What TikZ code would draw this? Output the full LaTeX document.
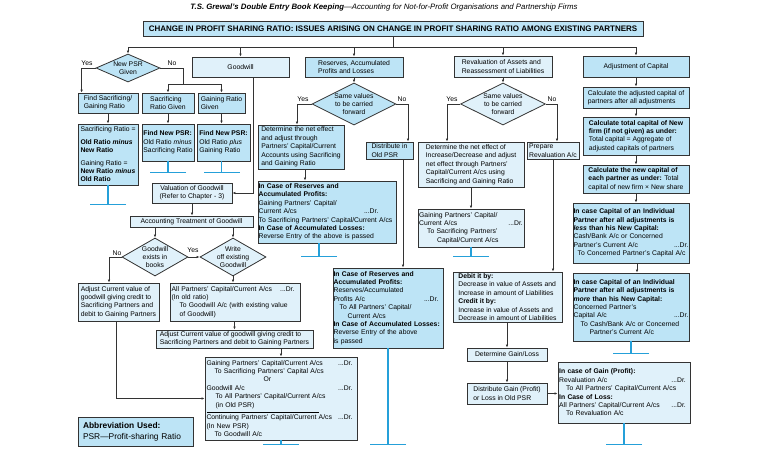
\documentclass[tikz,border=0pt]{standalone}
\usepackage{fontspec}
\setmainfont{Liberation Sans}
\usetikzlibrary{shapes.geometric,arrows.meta}
\definecolor{boxblue}{HTML}{BDE4F6}
\definecolor{paleblue}{HTML}{E0F1FA}
\definecolor{edge}{HTML}{333333}
\definecolor{stub}{HTML}{25A0D9}

\begin{document}
\begin{tikzpicture}[x=1pt,y=-1pt]
	\tikzstyle{every node}+=[inner sep=0pt]
	\tikzstyle{txt}=[font=\fontsize{6.8}{8.4}\selectfont]
	\tikzstyle{blk}=[txt, draw=edge, line width=0.8pt, fill=boxblue, inner xsep=1.2pt, inner ysep=1pt, align=left]
	\tikzstyle{pale}=[fill=paleblue]
	\tikzstyle{dia}=[txt, diamond, shape aspect=2, draw=edge, line width=0.8pt, fill=boxblue, inner sep=-3pt, align=center]
	\tikzstyle{ln}=[draw=edge, line width=0.7pt]
	\tikzstyle{arr}=[ln, -{Latex[length=3pt,width=2.5pt]}]
	\tikzstyle{stubline}=[draw=stub, line width=1.3pt, -{Bar[width=36pt]}]
	\tikzset{sz/.style 2 args={minimum width=#1pt, minimum height=#2pt}, tw/.style={text width=#1pt}}
	\fill[white, use as bounding box] (0,0) rectangle (768,461);
	\node[font=\fontsize{7.8}{8}\selectfont\itshape] (title) at (384,7) {\textbf{T.S. Grewal's Double Entry Book Keeping}—Accounting for Not-for-Profit Organisations and Partnership Firms};
	\node[blk, sz={500}{15}, font=\fontsize{8}{9}\selectfont\bfseries, align=center] (head) at (393,28.5) {CHANGE IN PROFIT SHARING RATIO: ISSUES ARISING ON CHANGE IN PROFIT SHARING RATIO AMONG EXISTING PARTNERS};

	\node[dia, sz={64}{28}] (psr) at (128,68) {New PSR\\Given};
	\node[blk, sz={60}{20}] (findsg) at (108,103) {Find Sacrificing/\\Gaining Ratio};
	\node[blk, sz={52}{20}] (sacgiven) at (168,103) {Sacrificing\\Ratio Given};
	\node[blk, sz={47}{20}] (gaingiven) at (221.5,103) {Gaining Ratio\\Given};
	\node[blk, sz={60}{61}] (sgratio) at (108,154.5) {Sacrificing Ratio =\\[4pt]\textbf{Old Ratio \textit{minus}}\\\textbf{New Ratio}\\[4pt]Gaining Ratio =\\\textbf{New Ratio \textit{minus}}\\\textbf{Old Ratio}};
	\node[blk, sz={52}{37}] (newpsra) at (168,142.5) {\textbf{Find New PSR:}\\Old Ratio \textit{minus}\\Sacrificing Ratio};
	\node[blk, sz={53}{37}] (newpsrb) at (223.5,142.5) {\textbf{Find New PSR:}\\Old Ratio \textit{plus}\\Gaining Ratio};
	\node[txt] (psryes) at (87,63) {Yes};
	\node[txt] (psrnolbl) at (172,63) {No};

	\node[blk, pale, sz={97}{20}, align=center] (gw) at (240.5,67) {Goodwill};
	\node[blk, pale, sz={80}{20}, align=center] (valgw) at (192,193) {Valuation of Goodwill\\(Refer to Chapter - 3)};
	\node[blk, pale, sz={123}{11}] (accgw) at (191.5,221.5) {Accounting Treatment of Goodwill};
	\node[dia, pale, sz={66}{38}] (gwex) at (155,257) {Goodwill\\exists in\\books};
	\node[dia, pale, sz={66}{38}] (wroff) at (233,257) {Write\\off existing\\Goodwill};
	\node[txt] (gwexyes) at (193,250) {Yes};
	\node[txt] (gwexno) at (117,253) {No};
	\node[blk, pale, sz={81}{38}] (adjgw) at (118.5,302) {Adjust Current value of\\goodwill giving credit to\\Sacrificing Partners and\\debit to Gaining Partners};
	\node[blk, pale, sz={130}{38}, tw={127}] (allpart) at (235,302) {All Partners' Capital/Current A/cs \hfill...Dr.\rule{4pt}{0pt}\\(In old ratio)\\\hspace*{8pt}To Goodwill A/c (with existing value\\\hspace*{8pt}of Goodwill)};
	\node[blk, pale, sz={157}{18}] (adjcur) at (234.5,339) {Adjust Current value of goodwill giving credit to\\Sacrificing Partners and debit to Gaining Partners};
	\node[blk, pale, sz={152}{83}, tw={149}] (gwentry) at (281,398.5) {Gaining Partners' Capital/Current A/cs \hfill...Dr.\rule{3pt}{0pt}\\\hspace*{8pt}To Sacrificing Partners' Capital A/cs\\\hspace*{57pt}Or\\Goodwill A/c \hfill...Dr.\rule{3pt}{0pt}\\\hspace*{9pt}To All Partners' Capital/Current A/cs\\\hspace*{9pt}(in Old PSR)\\[-3.3pt]\rule{112pt}{0.6pt}\\[-0.8pt]Continuing Partners' Capital/Current A/cs \hfill...Dr.\rule{3pt}{0pt}\\(In New PSR)\\\hspace*{8pt}To Goodwill A/c};
	\node[blk, sz={115}{29}, tw={105}, inner xsep=5pt, font=\fontsize{8.4}{11}\selectfont] (abbr) at (135.5,431.5) {\textbf{Abbreviation Used:}\\PSR—Profit-sharing Ratio};

	\node[blk, sz={98}{20}] (res) at (354,67) {Reserves, Accumulated\\Profits and Losses};
	\node[dia, sz={84}{42}] (ressame) at (354,104) {Same values\\to be carried\\forward};
	\node[txt] (resyes) at (303,99) {Yes};
	\node[txt] (resno) at (402,99) {No};
	\node[blk, sz={86}{44}] (resdet) at (301,147) {Determine the net effect\\and adjust through\\Partners' Capital/Current\\Accounts using Sacrificing\\and Gaining Ratio};
	\node[blk, sz={138}{62}, inner xsep=0.6pt, tw={136.8}] (resentry) at (327,212) {\textbf{In Case of Reserves and}\\\textbf{Accumulated Profits:}\\Gaining Partners' Capital/\\Current A/cs \hfill...Dr.\rule{17pt}{0pt}\\To Sacrificing Partners' Capital/Current A/cs\\\textbf{In Case of Accumulated Losses:}\\Reverse Entry of the above is passed};
	\node[blk, sz={47}{17}] (resdist) at (389.5,150.5) {Distribute in\\Old PSR};
	\node[blk, sz={110}{80}, inner xsep=0.6pt, tw={108.8}] (resentry2) at (388,308) {\textbf{In Case of Reserves and}\\\textbf{Accumulated Profits:}\\Reserves/Accumulated\\Profits A/c \hfill...Dr.\rule{4pt}{0pt}\\\hspace*{6pt}To All Partners' Capital/\\\hspace*{14pt}Current A/cs\\\textbf{In Case of Accumulated Losses:}\\Reverse Entry of the above\\is passed};

	\node[blk, pale, sz={98}{21}] (reval) at (503,66.5) {Revaluation of Assets and\\Reassessment of Liabilities};
	\node[dia, pale, sz={85}{42}] (revsame) at (503,104) {Same values\\to be carried\\forward};
	\node[txt] (revyes) at (452,99) {Yes};
	\node[txt] (revno) at (552,99) {No};
	\node[blk, pale, sz={106}{45}] (revdet) at (471,164.5) {Determine the net effect of\\Increase/Decrease and adjust\\net effect through Partners'\\Capital/Current A/cs using\\Sacrificing and Gaining Ratio};
	\node[blk, pale, sz={106}{38}, tw={103.6}] (reventry) at (471,228) {Gaining Partners' Capital/\\Current A/cs \hfill...Dr.\\\hspace*{8pt}To Sacrificing Partners'\\\hspace*{18pt}Capital/Current A/cs};
	\node[blk, pale, sz={52}{17}] (revprep) at (553,150.5) {Prepare\\Revaluation A/c};
	\node[blk, pale, sz={109}{50}] (revdc) at (507.5,297) {\textbf{Debit it by:}\\Decrease in value of Assets and\\Increase in amount of Liabilities\\\textbf{Credit it by:}\\Increase in value of Assets and\\Decrease in amount of Liabilities};
	\node[blk, pale, sz={80}{13}] (gainloss) at (507,354.5) {Determine Gain/Loss};
	\node[blk, pale, sz={80}{21}] (distgain) at (507,393.5) {Distribute Gain (Profit)\\or Loss in Old PSR};
	\node[blk, pale, sz={132}{61}, tw={129.6}] (gainentry) at (624,392.5) {\textbf{In case of Gain (Profit):}\\Revaluation A/c \hfill...Dr.\rule{3pt}{0pt}\\\hspace*{7pt}To All Partners' Capital/Current A/cs\\\textbf{In Case of Loss:}\\All Partners' Capital/Current A/cs \hfill...Dr.\rule{3pt}{0pt}\\\hspace*{7pt}To Revaluation A/c};

	\node[blk, sz={106}{21}, align=center] (adjcap) at (636,66.5) {Adjustment of Capital};
	\node[blk, sz={106}{21}] (capa) at (636,97.5) {Calculate the adjusted capital of\\partners after all adjustments};
	\node[blk, sz={106}{38}] (capb) at (636,136) {\textbf{Calculate total capital of New}\\\textbf{firm (if not given) as under:}\\Total capital = Aggregate of\\adjusted capitals of partners};
	\node[blk, sz={106}{28}] (capc) at (636,179) {\textbf{Calculate the new capital of}\\\textbf{each partner as under:} Total\\capital of new firm × New share};
	\node[blk, sz={116}{60}, inner xsep=0.6pt, tw={114.8}] (capd) at (631,233) {\textbf{In case Capital of an Individual}\\\textbf{Partner after all adjustments is}\\\textbf{\textit{less} than his New Capital:}\\Cash/Bank A/c or Concerned\\Partner's Current A/c \hfill...Dr.\\\hspace*{4pt}To Concerned Partner's Capital A/c};
	\node[blk, sz={116}{68}, inner xsep=0.6pt, tw={114.8}] (cape) at (631,307) {\textbf{In case Capital of an Individual}\\\textbf{Partner after all adjustments is}\\\textbf{\textit{more} than his New Capital:}\\Concerned Partner's\\Capital A/c \hfill...Dr.\\\hspace*{7pt}To Cash/Bank A/c or Concerned\\\hspace*{16pt}Partner's Current A/c};

	\coordinate (busl) at (128,47);
	\draw[ln] (head.south) -- (head.south |- busl);
	\draw[ln] (busl) -- (busl -| adjcap.north);
	\draw[arr] (busl) -- (psr.north);
	\draw[arr] (busl -| gw.north) -- (gw.north);
	\draw[arr] (busl -| res.north) -- (res.north);
	\draw[arr] (busl -| reval.north) -- (reval.north);
	\draw[arr] (busl -| adjcap.north) -- (adjcap.north);

	\coordinate (psrno) at (183,84);
	\draw[arr] (psr.west) -| ([xshift=4pt]findsg.north west);
	\draw[ln] (psr.east) -| (psrno);
	\draw[arr] (psrno) -| (sacgiven.north);
	\draw[arr] (psrno) -| (gaingiven.north);
	\draw[arr] (findsg) -- (sgratio);
	\draw[arr] (sacgiven) -- (newpsra);
	\draw[arr] (gaingiven.south) -- (gaingiven.south |- newpsrb.north);
	\draw[stubline] (sgratio.south) -- ++(0,20);
	\draw[stubline] (newpsra.south) -- ++(0,12);
	\draw[stubline] (gaingiven.south |- newpsrb.south) -- ++(0,12);

	\draw[arr] ([xshift=12.5pt]gw.south) |- (valgw.east);
	\draw[arr] (valgw.south) -- (valgw.south |- accgw.north);
	\draw[arr] (accgw.south -| gwex.north) -- (gwex.north);
	\draw[arr] (accgw.south -| wroff.north) -- (wroff.north);
	\draw[arr] (gwex.east) -- (wroff.west);
	\draw[arr] (gwex.west) -| ([xshift=-9.5pt]adjgw.north);
	\draw[arr] (wroff.south) -- (wroff.south |- allpart.north);
	\draw[arr] (allpart.south -| adjcur.north) -- (adjcur.north);
	\draw[arr] (adjcur.south -| gwentry.north) -- (gwentry.north);
	\draw[arr] ([xshift=-2.5pt]adjgw.south) |- (gwentry.west);
	\draw[stubline] (gwentry.south) -- ++(0,5);

	\draw[arr] (res) -- (ressame);
	\draw[arr] (ressame.west) -| ([xshift=-4pt]resdet.north);
	\draw[arr] (ressame.east) -| ([xshift=18.5pt]resdist.north);
	\draw[arr] ([xshift=4pt]resdet.south) -- ([xshift=4pt]resdet.south |- resentry.north);
	\draw[stubline] ([xshift=-8pt]resentry.south) -- ++(0,14);
	\draw[arr] ([xshift=13.5pt]resdist.south) -- ([xshift=13.5pt]resdist.south |- resentry2.north);
	\draw[stubline] (resentry2.south) -- ++(0,97);

	\draw[arr] (reval) -- (revsame);
	\draw[arr] (revsame.west) -| ([xshift=-24pt]revdet.north);
	\draw[arr] (revsame.east) -| ([xshift=4pt]revprep.north);
	\draw[arr] (revdet) -- (reventry);
	\draw[stubline] (reventry.south) -- ++(0,10);
	\draw[arr] (revprep.south) -- (revprep.south |- revdc.north);
	\draw[arr] (revdc.south -| gainloss.north) -- (gainloss.north);
	\draw[arr] (gainloss) -- (distgain);
	\draw[arr] (distgain.east) -- (distgain.east -| gainentry.west);
	\draw[stubline] (gainentry.south) -- ++(0,22);

	\draw[arr] (adjcap) -- (capa);
	\draw[arr] (capa) -- (capb);
	\draw[arr] (capb) -- (capc);
	\draw[arr] (capc.south) -- (capc.south |- capd.north);
	\draw[arr] ([xshift=6pt]capd.south) -- ([xshift=6pt]capd.south |- cape.north);
	\draw[stubline] (cape.south) -- ++(0,13);
\end{tikzpicture}
\end{document}
